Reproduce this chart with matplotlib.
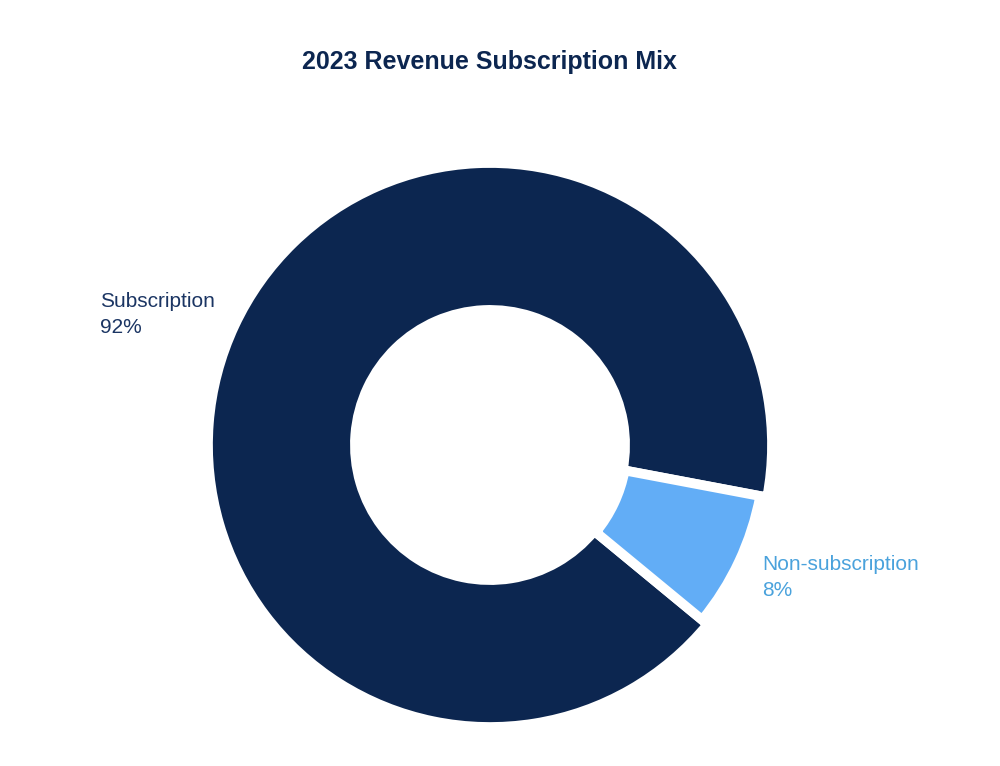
import matplotlib
matplotlib.use("Agg")
import matplotlib.pyplot as plt

labels = ["Subscription", "Non-subscription"]
shares = [92, 8]
colors = ["#0c2650", "#62adf6"]
label_colors = ["#1b3563", "#4aa2dc"]

plt.rcParams['font.family'] = ['Liberation Sans', 'DejaVu Sans']

fig = plt.figure(figsize=(10, 7.66), dpi=100)
W, H = 1000, 766
cx, cy, r = 490, 766 - 445, 282
ax = fig.add_axes([(cx - r) / W, (cy - r) / H, 2 * r / W, 2 * r / H])

wedges, _ = ax.pie(shares, colors=colors, startangle=-10.7, counterclock=True,
                   radius=1.0, wedgeprops=dict(width=0.521, edgecolor="white", linewidth=7))
# the small slice sits a little inside the big one
wedges[1].set_radius(0.975)
wedges[1].set_width(0.975 - 0.486)

ax.set_xlim(-1, 1)
ax.set_ylim(-1, 1)
ax.set_aspect("equal")
ax.axis("off")

# labels
ax.text(-1.383, 0.462, f"{labels[0]}\n{shares[0]}%", color=label_colors[0],
        fontsize=15, ha="left", va="center", linespacing=1.5)
ax.text(0.965, -0.470, f"{labels[1]}\n{shares[1]}%", color=label_colors[1],
        fontsize=15, ha="left", va="center", linespacing=1.5)

fig.text(0.489, 1 - 62 / H, "2023 Revenue Subscription Mix", color="#0c2650",
         fontsize=18, fontweight="bold", ha="center", va="center")

fig.savefig("out.png", dpi=100, facecolor="white")
